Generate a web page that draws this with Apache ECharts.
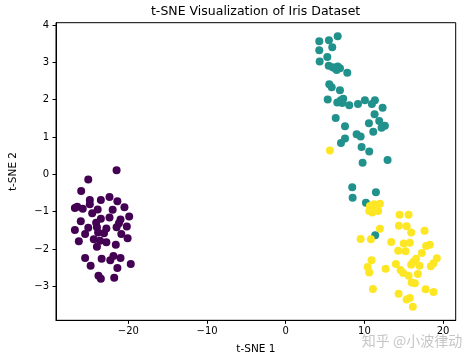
<!DOCTYPE html>
<html>
<head>
<meta charset="utf-8">
<script src="https://cdn.jsdelivr.net/npm/echarts@6/dist/echarts.min.js"></script>
<style>html,body{margin:0;padding:0;background:#fff}#c{width:474px;height:360px}</style>
</head>
<body>
<div id="c"></div>
<script>
const xTicks = [-20, -10, 0, 10, 20];
const yTicks = [-3, -2, -1, 0, 1, 2, 3, 4];

const setosa = [
  [-21.5, 0.11], [-25.1, -0.14], [-26.0, -0.45], [-24.9, -0.69], [-24.9, -0.80],
  [-23.5, -0.69], [-22.4, -0.61], [-21.4, -0.72], [-20.5, -0.88], [-26.8, -0.90],
  [-26.5, -0.87], [-25.8, -0.92], [-24.6, -1.04], [-23.9, -0.94], [-19.9, -1.13],
  [-23.5, -1.19], [-22.4, -1.16], [-21.0, -1.21], [-26.05, -1.26], [-21.2, -1.31],
  [-21.5, -1.42], [-20.2, -1.40], [-25.1, -1.43], [-24.0, -1.42], [-26.8, -1.49],
  [-25.5, -1.60], [-23.85, -1.56], [-23.1, -1.58], [-20.9, -1.60], [-26.3, -1.79],
  [-24.4, -1.74], [-23.6, -1.78], [-22.8, -1.82], [-20.1, -1.71], [-24.0, -1.94],
  [-21.6, -1.89], [-25.5, -2.24], [-23.4, -2.26], [-22.3, -2.30], [-21.9, -2.19],
  [-21.0, -2.24], [-24.8, -2.45], [-21.4, -2.51], [-19.7, -2.40], [-23.8, -2.72],
  [-23.5, -2.80], [-21.8, -2.77], [-24.1, -1.30], [-22.8, -1.45], [-22.0, -0.95]
];

const versicolor = [
  [6.60, 3.70], [4.26, 3.56], [5.49, 3.59], [5.91, 3.40], [4.26, 3.32],
  [5.28, 3.14], [4.31, 3.02], [5.46, 2.91], [5.96, 2.87], [6.60, 2.89],
  [6.89, 2.84], [6.47, 2.79], [7.82, 2.72], [5.53, 2.41], [5.84, 2.33],
  [6.89, 2.25], [5.33, 2.00], [6.55, 1.92], [6.98, 1.96], [7.31, 2.02],
  [7.18, 1.91], [8.07, 1.85], [9.18, 1.88], [10.06, 1.98], [11.33, 1.98],
  [10.95, 1.88], [12.31, 1.78], [6.35, 1.51], [11.29, 1.61], [11.88, 1.43],
  [10.57, 1.37], [12.60, 1.30], [12.18, 1.25], [7.53, 1.29], [11.12, 1.14],
  [9.01, 1.07], [9.52, 1.01], [7.53, 0.96], [7.02, 0.84], [9.64, 0.73],
  [10.61, 0.61], [9.77, 0.31], [12.94, 0.38], [8.45, -0.35], [8.50, -0.63],
  [11.46, -0.48], [10.19, -0.76], [11.37, -1.63], [6.2, 2.85], [7.0, 1.98]
];

const virginica = [
  [5.62, 0.64], [10.70, -0.85], [11.21, -0.80], [11.97, -0.79], [10.61, -0.98],
  [10.99, -1.02], [11.75, -0.98], [14.47, -1.08], [15.61, -1.08], [14.38, -1.38],
  [15.36, -1.39], [15.94, -1.56], [17.64, -1.51], [11.97, -1.46], [9.52, -1.73],
  [10.82, -1.74], [13.40, -1.81], [15.77, -1.83], [17.84, -1.92], [18.31, -1.89],
  [14.29, -2.05], [15.23, -2.06], [17.30, -2.11], [10.91, -2.30], [16.57, -2.26],
  [16.19, -2.35], [19.20, -2.25], [18.78, -2.38], [18.44, -2.46], [15.94, -2.42],
  [10.41, -2.48], [10.61, -2.63], [12.69, -2.53], [14.00, -2.40], [14.59, -2.56],
  [14.92, -2.64], [15.61, -2.72], [16.79, -2.67], [16.41, -2.92], [11.08, -3.07],
  [14.34, -3.20], [15.36, -3.35], [15.77, -3.31], [17.77, -3.08], [18.78, -3.15],
  [16.15, -3.55], [15.0, -1.85], [11.3, -0.9], [16.0, -2.9], [17.0, -2.45]
];

const colors = ['#440154', '#21918c', '#fde725'];
const FONT = 'DejaVu Sans';
const fmt = v => String(v).replace('-', '\u2212');

const chart = echarts.init(document.getElementById('c'), null, {renderer: 'canvas'});
function mk(name, data, color) {
  return {
    name, type: 'scatter', data, symbol: 'circle', symbolSize: 8,
    itemStyle: {color, opacity: 1}, silent: true, animation: false
  };
}
chart.setOption({
  animation: false,
  grid: {left: 55.5, right: 18.3, top: 22.7, bottom: 39.7, show: true,
         borderColor: '#000', borderWidth: 1, backgroundColor: 'transparent'},
  xAxis: {
    type: 'value', min: -29.2, max: 21.6,
    name: 't-SNE 1', nameLocation: 'middle', nameGap: 23,
    nameTextStyle: {fontFamily: FONT, fontSize: 10.5, color: '#000'},
    axisLine: {show: true, onZero: false, lineStyle: {color: '#000', width: 1}},
    axisTick: {show: true, length: 3.5, customValues: xTicks, lineStyle: {color: '#000', width: 1}},
    axisLabel: {customValues: xTicks, formatter: fmt, fontFamily: FONT, fontSize: 10, color: '#000', margin: 6},
    splitLine: {show: false}
  },
  yAxis: {
    type: 'value', min: -3.91, max: 4.06,
    name: 't-SNE 2', nameLocation: 'middle', nameGap: 37, nameRotate: 90,
    nameTextStyle: {fontFamily: FONT, fontSize: 10.5, color: '#000'},
    axisLine: {show: true, onZero: false, lineStyle: {color: '#000', width: 1}},
    axisTick: {show: true, length: 3.5, customValues: yTicks, lineStyle: {color: '#000', width: 1}},
    axisLabel: {customValues: yTicks, formatter: fmt, fontFamily: FONT, fontSize: 10, color: '#000', margin: 7},
    splitLine: {show: false}
  },
  series: [
    mk('setosa', setosa, colors[0]),
    mk('versicolor', versicolor, colors[1]),
    mk('virginica', virginica, colors[2])
  ],
  graphic: [
    {type: 'text', x: 255.6, y: 12, silent: true,
     style: {text: 't-SNE Visualization of Iris Dataset', fontFamily: FONT, fontSize: 12.5,
             fill: '#000', align: 'center', verticalAlign: 'middle'}},
    {type: 'text', x: 412, y: 341, silent: true, z: 100,
     style: {text: '知乎 @小波律动', fontFamily: 'Noto Sans CJK SC', fontSize: 14,
             fill: 'rgba(150,150,150,0.55)', stroke: 'rgba(255,255,255,0.6)', lineWidth: 1,
             align: 'center', verticalAlign: 'middle'}}
  ]
});
</script>
</body>
</html>
